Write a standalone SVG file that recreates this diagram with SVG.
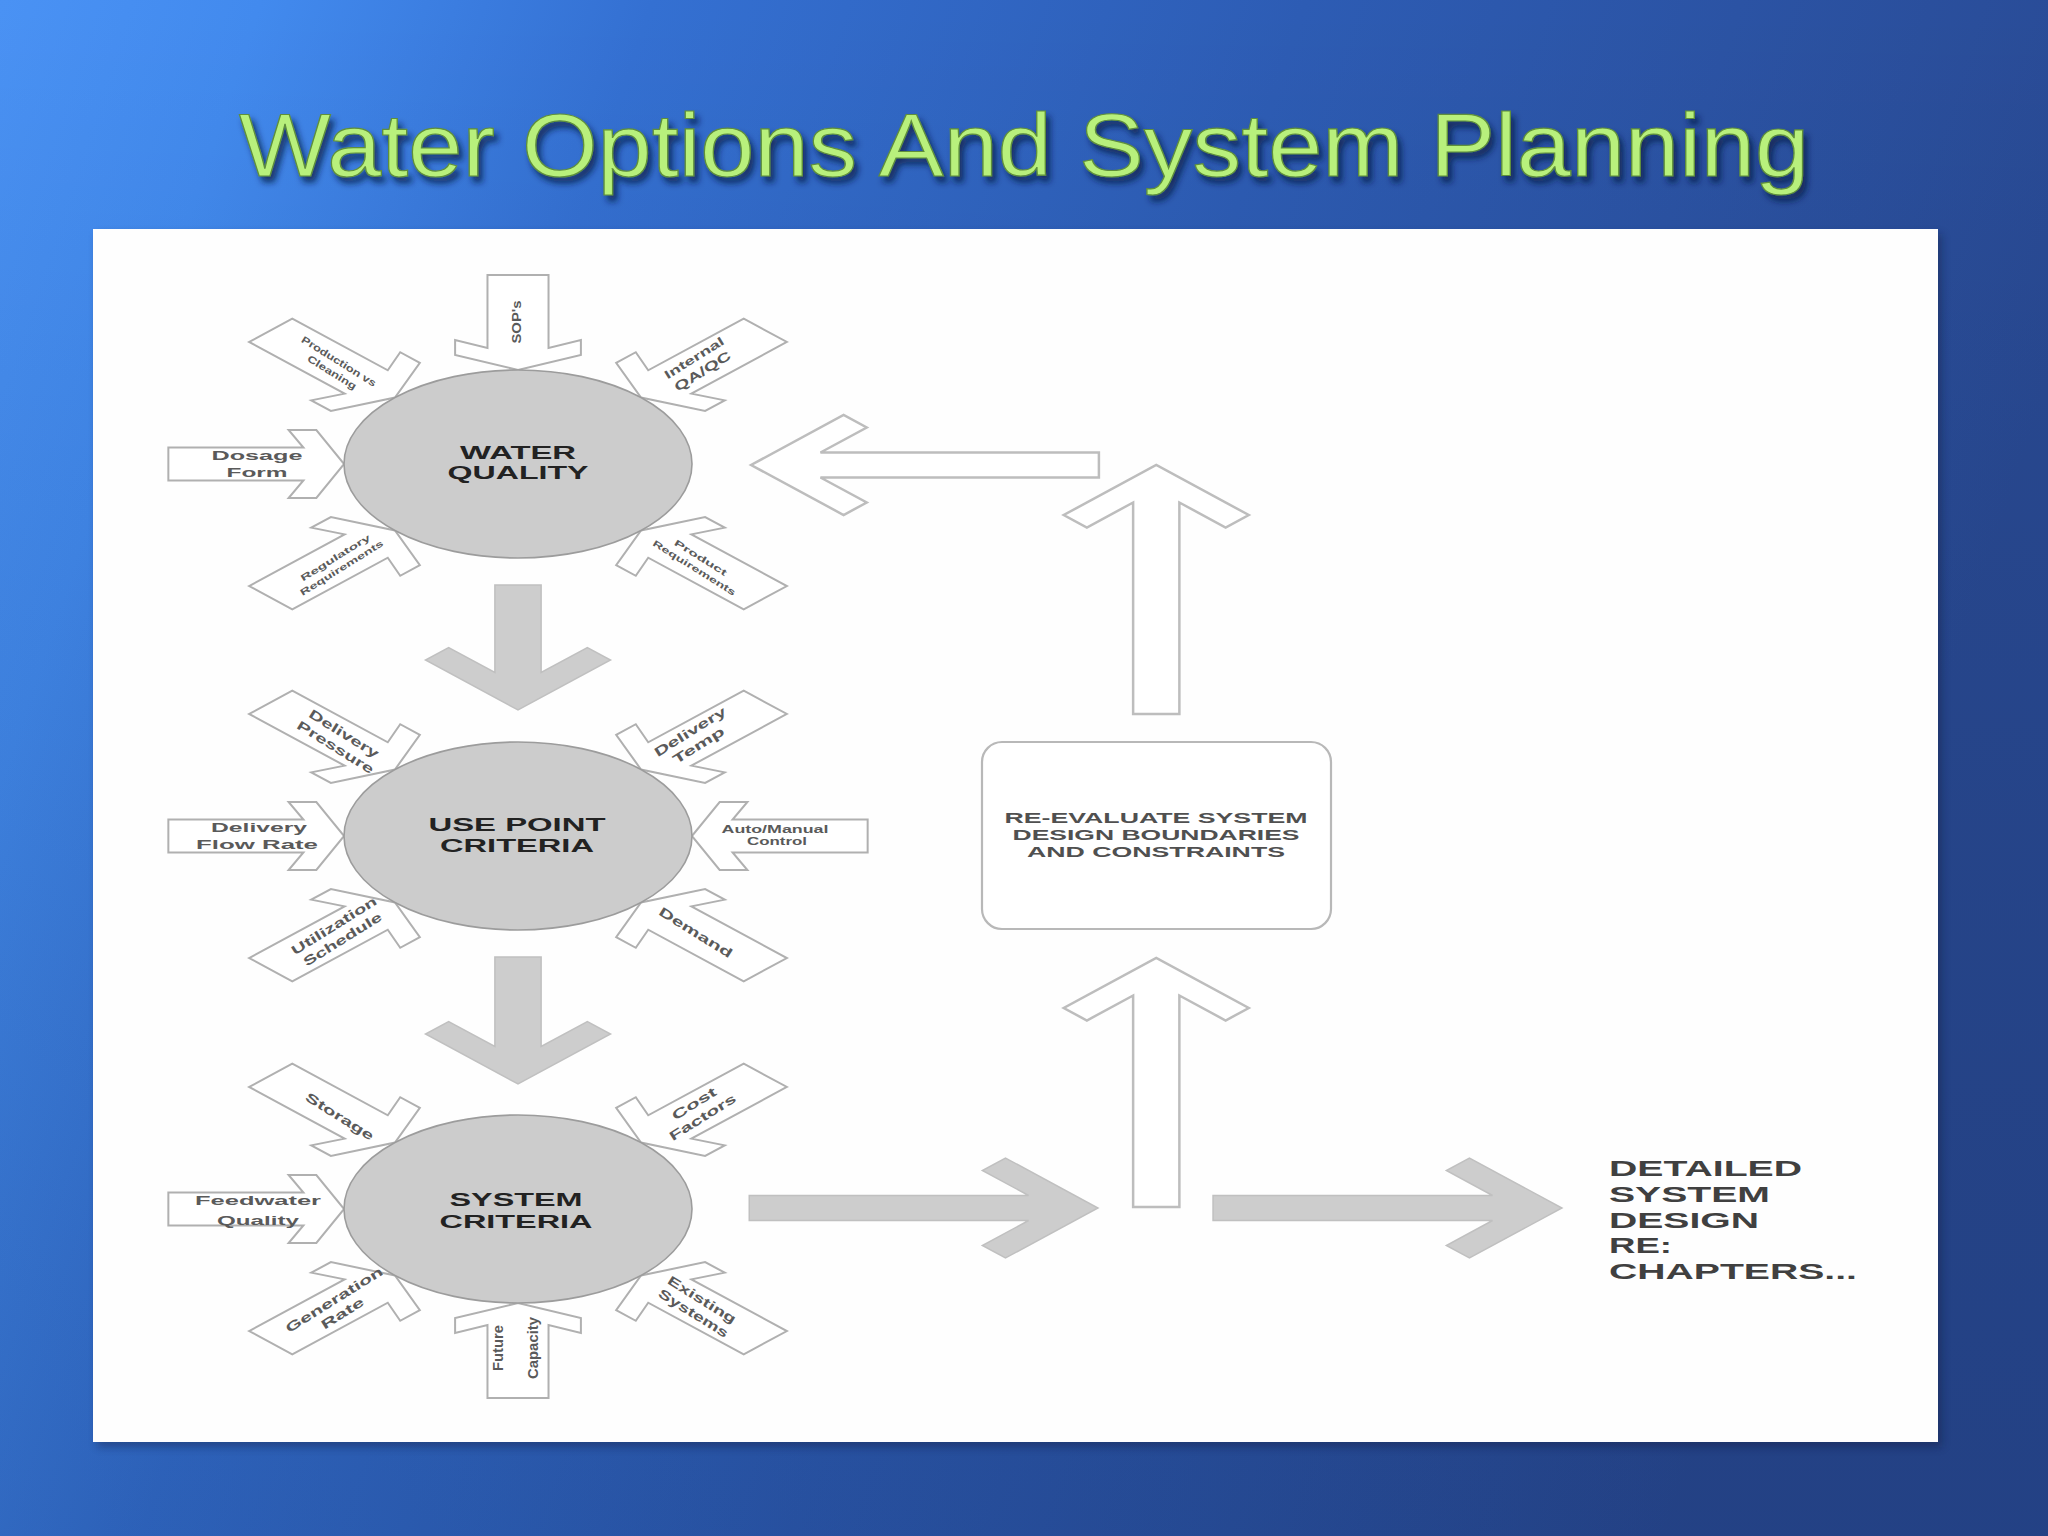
<svg xmlns="http://www.w3.org/2000/svg" xmlns:xlink="http://www.w3.org/1999/xlink" width="2048" height="1536" viewBox="0 0 2048 1536">
<defs>
<linearGradient id="bg" x1="0" y1="0" x2="1" y2="0.25">
<stop offset="0" stop-color="#4a92f4"/>
<stop offset="0.12" stop-color="#428aee"/>
<stop offset="0.3" stop-color="#3470d2"/>
<stop offset="0.6" stop-color="#2d5cb4"/>
<stop offset="1" stop-color="#294a94"/>
</linearGradient>
<linearGradient id="bg2" x1="0" y1="0" x2="0" y2="1">
<stop offset="0" stop-color="#000" stop-opacity="0"/>
<stop offset="1" stop-color="#0a1a40" stop-opacity="0.18"/>
</linearGradient>
<filter id="tshadow" x="-5%" y="-30%" width="110%" height="160%">
<feGaussianBlur in="SourceAlpha" stdDeviation="3"/>
<feOffset dx="4" dy="6" result="ob"/>
<feFlood flood-color="#0c1c45" flood-opacity="0.75"/>
<feComposite in2="ob" operator="in" result="sh"/>
<feMerge><feMergeNode in="sh"/><feMergeNode in="SourceGraphic"/></feMerge>
</filter>
<filter id="pshadow" x="-5%" y="-5%" width="110%" height="110%"><feGaussianBlur stdDeviation="4"/></filter>
<path id="sa" vector-effect="non-scaling-stroke" d="M-95,-16.5 L-22,-16.5 L-30,-34 L-15,-34 L0,0 L-15,34 L-30,34 L-22,16.5 L-95,16.5 Z"/>
<style>
.sa{fill:#ffffff;stroke:#b0b0b0;stroke-width:2}
.wa{fill:#ffffff;stroke:#bdbdbd;stroke-width:2.5}
.ga{fill:#cdcdcd;stroke:#c0c0c0;stroke-width:1.5}
.el{fill:#cccccc;stroke:#9c9c9c;stroke-width:1.6}
.lbl{font-family:"Liberation Sans",Arial,sans-serif;font-weight:bold;fill:#5a5a5a;text-anchor:middle}
.nt{font-family:"Liberation Sans",Arial,sans-serif;font-weight:bold;fill:#222222;text-anchor:middle;font-size:19px}
.bt{font-family:"Liberation Sans",Arial,sans-serif;font-weight:bold;fill:#505050;text-anchor:middle;font-size:15px}
.dt{font-family:"Liberation Sans",Arial,sans-serif;font-weight:bold;fill:#404040;font-size:22px}
</style>
</defs>

<rect x="0" y="0" width="2048" height="1536" fill="url(#bg)"/>
<rect x="0" y="0" width="2048" height="1536" fill="url(#bg2)"/>

<g id="title">
<text x="1024" y="176" font-family="Liberation Sans, Arial, sans-serif" font-size="89" text-anchor="middle" textLength="1570" lengthAdjust="spacingAndGlyphs" fill="#b8f07c" stroke="#5f8f3a" stroke-width="1.2" filter="url(#tshadow)">Water Options And System Planning</text>
</g>

<g id="panel">
<rect x="97" y="234" width="1845" height="1213" fill="#0a1630" opacity="0.35" filter="url(#pshadow)"/>
<rect x="93" y="229" width="1845" height="1213" fill="#fefefe"/>
</g>

<g id="connectors">
<path class="ga" vector-effect="non-scaling-stroke" transform="scale(1.85 1) translate(280 710) rotate(90)" d="M-125,-12.5 L-37.5,-12.5 L-62.5,-37.5 L-50,-50 L0,0 L-50,50 L-62.5,37.5 L-37.5,12.5 L-125,12.5 Z"/>
<path class="ga" vector-effect="non-scaling-stroke" transform="scale(1.85 1) translate(280 1084) rotate(90)" d="M-127,-12.5 L-37.5,-12.5 L-62.5,-37.5 L-50,-50 L0,0 L-50,50 L-62.5,37.5 L-37.5,12.5 L-127,12.5 Z"/>
<path class="wa" vector-effect="non-scaling-stroke" transform="scale(1.85 1) translate(406 465) rotate(180)" d="M-188,-12.5 L-37.5,-12.5 L-62.5,-37.5 L-50,-50 L0,0 L-50,50 L-62.5,37.5 L-37.5,12.5 L-188,12.5 Z"/>
<path class="wa" vector-effect="non-scaling-stroke" transform="scale(1.85 1) translate(625 465) rotate(-90)" d="M-249,-12.5 L-37.5,-12.5 L-62.5,-37.5 L-50,-50 L0,0 L-50,50 L-62.5,37.5 L-37.5,12.5 L-249,12.5 Z"/>
<path class="wa" vector-effect="non-scaling-stroke" transform="scale(1.85 1) translate(625 958) rotate(-90)" d="M-249,-12.5 L-37.5,-12.5 L-62.5,-37.5 L-50,-50 L0,0 L-50,50 L-62.5,37.5 L-37.5,12.5 L-249,12.5 Z"/>
<path class="ga" vector-effect="non-scaling-stroke" transform="scale(1.85 1) translate(593.5 1208)" d="M-188.5,-12.5 L-37.5,-12.5 L-62.5,-37.5 L-50,-50 L0,0 L-50,50 L-62.5,37.5 L-37.5,12.5 L-188.5,12.5 Z"/>
<path class="ga" vector-effect="non-scaling-stroke" transform="scale(1.85 1) translate(844.3 1208)" d="M-188.6,-12.5 L-37.5,-12.5 L-62.5,-37.5 L-50,-50 L0,0 L-50,50 L-62.5,37.5 L-37.5,12.5 L-188.6,12.5 Z"/>
</g>

<!-- Water quality inputs -->
<g id="in-production">
<use href="#sa" class="sa" transform="scale(1.85 1) translate(213.5 397.5) rotate(45)"/>
<g transform="translate(336 366) rotate(32)"><text class="lbl" font-size="10" y="-2" textLength="86" lengthAdjust="spacingAndGlyphs">Production vs</text><text class="lbl" font-size="10" y="11" textLength="56" lengthAdjust="spacingAndGlyphs">Cleaning</text></g>
</g>
<g id="in-sops">
<use href="#sa" class="sa" transform="scale(1.85 1) translate(280 370) rotate(90)"/>
<text class="lbl" font-size="13" transform="translate(516 322) rotate(-90)" y="4.5" textLength="43" lengthAdjust="spacingAndGlyphs">SOP's</text>
</g>
<g id="in-qaqc">
<use href="#sa" class="sa" transform="scale(1.85 1) translate(346.5 397.5) rotate(135)"/>
<g transform="translate(698 364) rotate(-32)"><text class="lbl" font-size="12" y="-3" textLength="68" lengthAdjust="spacingAndGlyphs">Internal</text><text class="lbl" font-size="13" y="13" textLength="64" lengthAdjust="spacingAndGlyphs">QA/QC</text></g>
</g>
<g id="in-dosage">
<use href="#sa" class="sa" transform="scale(1.85 1) translate(186 464)"/>
<text class="lbl" font-size="13" x="257" y="460" textLength="91" lengthAdjust="spacingAndGlyphs">Dosage</text>
<text class="lbl" font-size="13" x="257" y="477" textLength="61" lengthAdjust="spacingAndGlyphs">Form</text>
</g>
<g id="in-regulatory">
<use href="#sa" class="sa" transform="scale(1.85 1) translate(213.5 530.5) rotate(-45)"/>
<g transform="translate(338 562) rotate(-32)"><text class="lbl" font-size="9" y="-2" textLength="80" lengthAdjust="spacingAndGlyphs">Regulatory</text><text class="lbl" font-size="9" y="10" textLength="96" lengthAdjust="spacingAndGlyphs">Requirements</text></g>
</g>
<g id="in-product">
<use href="#sa" class="sa" transform="scale(1.85 1) translate(346.5 530.5) rotate(-135)"/>
<g transform="translate(698 562) rotate(32)"><text class="lbl" font-size="9" y="-2" textLength="60" lengthAdjust="spacingAndGlyphs">Product</text><text class="lbl" font-size="9" y="10" textLength="96" lengthAdjust="spacingAndGlyphs">Requirements</text></g>
</g>

<!-- Use point inputs -->
<g id="in-pressure">
<use href="#sa" class="sa" transform="scale(1.85 1) translate(213.5 769.5) rotate(45)"/>
<g transform="translate(340 740) rotate(32)"><text class="lbl" font-size="13" y="-3" textLength="80" lengthAdjust="spacingAndGlyphs">Delivery</text><text class="lbl" font-size="13" y="13" textLength="88" lengthAdjust="spacingAndGlyphs">Pressure</text></g>
</g>
<g id="in-temp">
<use href="#sa" class="sa" transform="scale(1.85 1) translate(346.5 769.5) rotate(135)"/>
<g transform="translate(694 738) rotate(-32)"><text class="lbl" font-size="13" y="-3" textLength="82" lengthAdjust="spacingAndGlyphs">Delivery</text><text class="lbl" font-size="13" y="13" textLength="58" lengthAdjust="spacingAndGlyphs">Temp</text></g>
</g>
<g id="in-flowrate">
<use href="#sa" class="sa" transform="scale(1.85 1) translate(186 836)"/>
<text class="lbl" font-size="13" x="259" y="832" textLength="96" lengthAdjust="spacingAndGlyphs">Delivery</text>
<text class="lbl" font-size="13" x="257" y="849" textLength="122" lengthAdjust="spacingAndGlyphs">Flow Rate</text>
</g>
<g id="in-automanual">
<use href="#sa" class="sa" transform="scale(1.85 1) translate(374 836) rotate(180)"/>
<text class="lbl" font-size="10" x="775" y="833" textLength="107" lengthAdjust="spacingAndGlyphs">Auto/Manual</text>
<text class="lbl" font-size="10" x="777" y="845" textLength="60" lengthAdjust="spacingAndGlyphs">Control</text>
</g>
<g id="in-utilization">
<use href="#sa" class="sa" transform="scale(1.85 1) translate(213.5 902.5) rotate(-45)"/>
<g transform="translate(338 932) rotate(-32)"><text class="lbl" font-size="13" y="-3" textLength="98" lengthAdjust="spacingAndGlyphs">Utilization</text><text class="lbl" font-size="13" y="13" textLength="90" lengthAdjust="spacingAndGlyphs">Schedule</text></g>
</g>
<g id="in-demand">
<use href="#sa" class="sa" transform="scale(1.85 1) translate(346.5 902.5) rotate(-135)"/>
<g transform="translate(696 932) rotate(32)"><text class="lbl" font-size="13" y="5" textLength="84" lengthAdjust="spacingAndGlyphs">Demand</text></g>
</g>

<!-- System criteria inputs -->
<g id="in-storage">
<use href="#sa" class="sa" transform="scale(1.85 1) translate(213.5 1142.5) rotate(45)"/>
<g transform="translate(340 1116) rotate(32)"><text class="lbl" font-size="13" y="5" textLength="78" lengthAdjust="spacingAndGlyphs">Storage</text></g>
</g>
<g id="in-cost">
<use href="#sa" class="sa" transform="scale(1.85 1) translate(346.5 1142.5) rotate(135)"/>
<g transform="translate(698 1110) rotate(-32)"><text class="lbl" font-size="13" y="-3" textLength="50" lengthAdjust="spacingAndGlyphs">Cost</text><text class="lbl" font-size="13" y="13" textLength="76" lengthAdjust="spacingAndGlyphs">Factors</text></g>
</g>
<g id="in-feedwater">
<use href="#sa" class="sa" transform="scale(1.85 1) translate(186 1209)"/>
<text class="lbl" font-size="13" x="258" y="1205" textLength="126" lengthAdjust="spacingAndGlyphs">Feedwater</text>
<text class="lbl" font-size="13" x="258" y="1225" textLength="82" lengthAdjust="spacingAndGlyphs">Quality</text>
</g>
<g id="in-generation">
<use href="#sa" class="sa" transform="scale(1.85 1) translate(213.5 1275.5) rotate(-45)"/>
<g transform="translate(338 1306) rotate(-32)"><text class="lbl" font-size="13" y="-3" textLength="112" lengthAdjust="spacingAndGlyphs">Generation</text><text class="lbl" font-size="13" y="13" textLength="48" lengthAdjust="spacingAndGlyphs">Rate</text></g>
</g>
<g id="in-future">
<use href="#sa" class="sa" transform="scale(1.85 1) translate(280 1303) rotate(-90)"/>
<g transform="translate(516 1348) rotate(-90)"><text class="lbl" font-size="14" y="-13" textLength="46" lengthAdjust="spacingAndGlyphs">Future</text><text class="lbl" font-size="14" y="22" textLength="62" lengthAdjust="spacingAndGlyphs">Capacity</text></g>
</g>
<g id="in-existing">
<use href="#sa" class="sa" transform="scale(1.85 1) translate(346.5 1275.5) rotate(-135)"/>
<g transform="translate(698 1306) rotate(32)"><text class="lbl" font-size="13" y="-3" textLength="78" lengthAdjust="spacingAndGlyphs">Existing</text><text class="lbl" font-size="13" y="13" textLength="80" lengthAdjust="spacingAndGlyphs">Systems</text></g>
</g>

<g id="water-quality">
<ellipse class="el" cx="518" cy="464" rx="174" ry="94"/>
<text class="nt" x="518" y="459" textLength="116" lengthAdjust="spacingAndGlyphs">WATER</text>
<text class="nt" x="518" y="479" textLength="141" lengthAdjust="spacingAndGlyphs">QUALITY</text>
</g>
<g id="use-point-criteria">
<ellipse class="el" cx="518" cy="836" rx="174" ry="94"/>
<text class="nt" x="517" y="831" textLength="177" lengthAdjust="spacingAndGlyphs">USE POINT</text>
<text class="nt" x="517" y="852" textLength="154" lengthAdjust="spacingAndGlyphs">CRITERIA</text>
</g>
<g id="system-criteria">
<ellipse class="el" cx="518" cy="1209" rx="174" ry="94"/>
<text class="nt" x="516" y="1206" textLength="133" lengthAdjust="spacingAndGlyphs">SYSTEM</text>
<text class="nt" x="516" y="1228" textLength="153" lengthAdjust="spacingAndGlyphs">CRITERIA</text>
</g>

<g id="re-evaluate">
<rect x="982" y="742" width="349" height="187" rx="20" ry="20" fill="#ffffff" stroke="#b8b8b8" stroke-width="2.2"/>
<text class="bt" x="1156" y="823" textLength="303" lengthAdjust="spacingAndGlyphs">RE-EVALUATE SYSTEM</text>
<text class="bt" x="1156" y="840" textLength="287" lengthAdjust="spacingAndGlyphs">DESIGN BOUNDARIES</text>
<text class="bt" x="1156" y="857" textLength="258" lengthAdjust="spacingAndGlyphs">AND CONSTRAINTS</text>
</g>

<g id="detailed-design">
<text class="dt" x="1609" y="1176" textLength="193" lengthAdjust="spacingAndGlyphs">DETAILED</text>
<text class="dt" x="1609" y="1202" textLength="161" lengthAdjust="spacingAndGlyphs">SYSTEM</text>
<text class="dt" x="1609" y="1228" textLength="150" lengthAdjust="spacingAndGlyphs">DESIGN</text>
<text class="dt" x="1609" y="1253" textLength="63" lengthAdjust="spacingAndGlyphs">RE:</text>
<text class="dt" x="1609" y="1279" textLength="248" lengthAdjust="spacingAndGlyphs">CHAPTERS...</text>
</g>
</svg>
